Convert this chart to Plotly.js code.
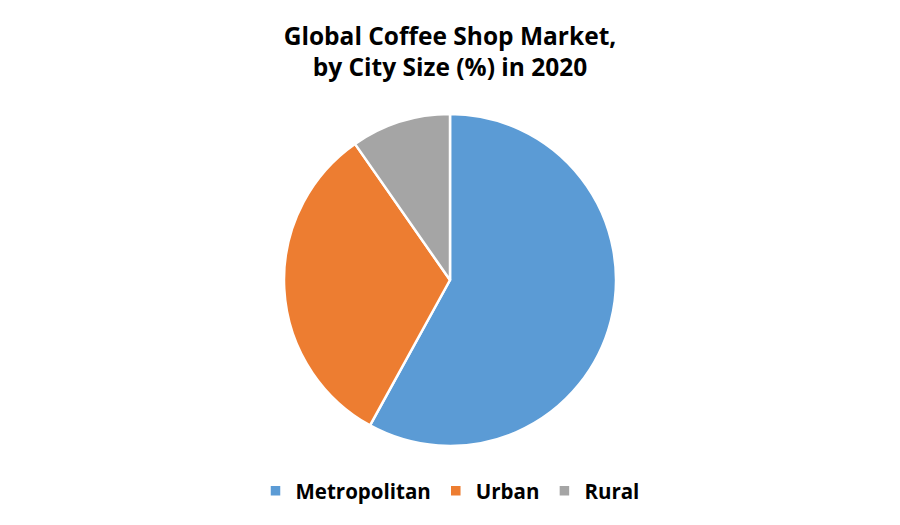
<!DOCTYPE html>
<html>
<head>
<meta charset="utf-8">
<script src="https://cdn.plot.ly/plotly-3.0.1.min.js"></script>
<style>
  html, body { margin: 0; padding: 0; background: #ffffff; }
  #chart { width: 900px; height: 525px; }
</style>
</head>
<body>
<div id="chart"></div>
<script>
// city size categories and share of market (%)
var city_sizes = ['Metropolitan', 'Urban', 'Rural'];
var share_2020 = [58, 32.3, 9.7];
var slice_colors = ['#5B9BD5', '#ED7D31', '#A5A5A5'];

var trace_share = {
	labels: city_sizes,
	values: share_2020,
	type: 'pie',
	sort: false,
	direction: 'clockwise',
	rotation: 0,
	textinfo: 'none',
	hoverinfo: 'label+percent',
	marker: {
		colors: slice_colors,
		line: { color: '#ffffff', width: 2.5 }
	}
};

var layout = {
	width: 900,
	height: 525,
	paper_bgcolor: '#ffffff',
	margin: { l: 100, r: 100, t: 114, b: 79 },
	title: {
		text: '<b>Global Coffee Shop Market,<br>by City Size (%) in 2020</b>',
		font: { family: 'Open Sans, Liberation Sans, sans-serif', size: 24.5, color: '#000000' },
		x: 0.5,
		xanchor: 'center',
		y: 0.915,
		yanchor: 'top'
	},
	showlegend: true,
	legend: {
		orientation: 'h',
		x: 0.5,
		xanchor: 'center',
		y: -0.075,
		yanchor: 'top',
		font: { family: 'Open Sans, Liberation Sans, sans-serif', size: 20.5, color: '#000000', weight: 'bold' },
		itemwidth: 30,
		tracegroupgap: 0
	}
};

Plotly.newPlot('chart', [trace_share], layout, { displayModeBar: false });
</script>
</body>
</html>
